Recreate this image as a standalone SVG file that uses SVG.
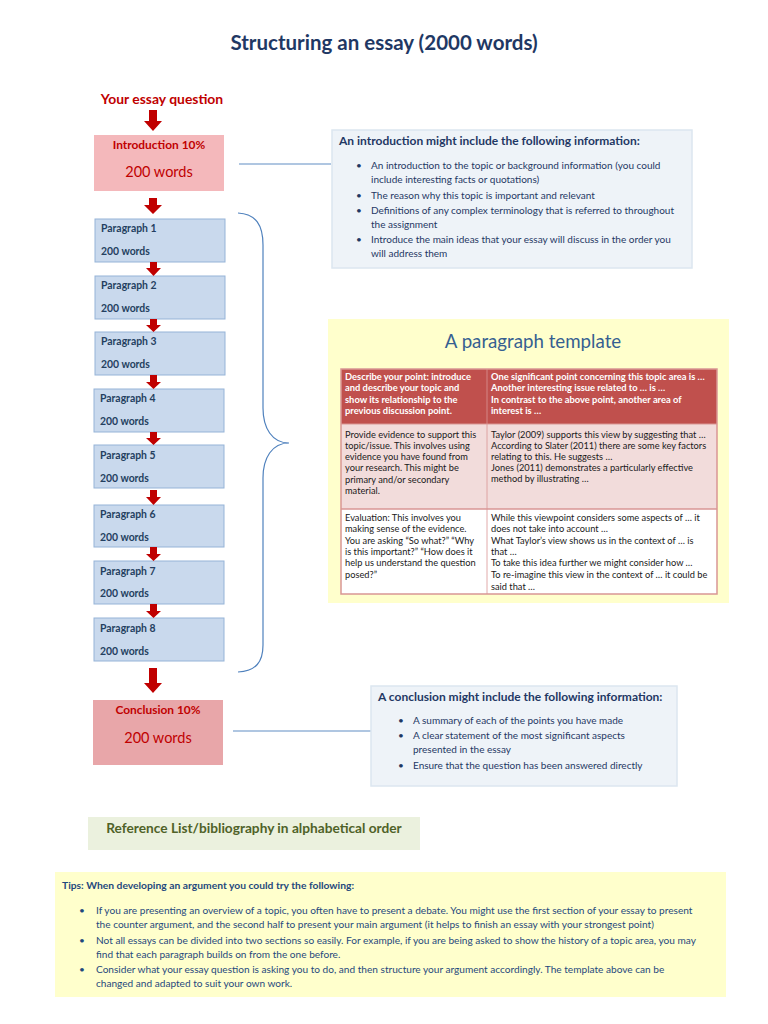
<svg xmlns="http://www.w3.org/2000/svg" width="768" height="1024" viewBox="0 0 768 1024">
<style>
text{font-family:Lato,"Open Sans","Liberation Sans",sans-serif;}
.title{font-size:20.5px;font-weight:bold;fill:#1f3864;}
.red{fill:#c00000;}
.arrow{fill:#c00000;}
.para rect{fill:#c9d9ed;stroke:#95b3d7;stroke-width:1;}
.para text{font-size:10.4px;font-weight:bold;fill:#243f60;}
.info{fill:#eef3f8;stroke:#dce6f0;stroke-width:1.5;}
.ih{font-size:12px;font-weight:bold;fill:#1f3864;}
.ib{font-size:10px;fill:#1f3864;}
.th{font-size:9.35px;font-weight:bold;fill:#ffffff;}
.tb{font-size:9.25px;fill:#1a1a1a;}
.tips{font-size:10.1px;fill:#1f497d;}
.conn{fill:none;stroke:#95b3d7;stroke-width:1.3;}
.brace{fill:none;stroke:#4f81bd;stroke-width:1.2;}
</style>

<text x="384" y="50" text-anchor="middle" class="title">Structuring an essay (2000 words)</text>

<g id="question">
<text x="162" y="104" text-anchor="middle" font-size="13.9" font-weight="bold" class="red">Your essay question</text>
</g>

<g id="intro">
<rect x="94" y="135" width="130" height="56" fill="#f4b8bb"/>
<text x="159" y="149" text-anchor="middle" font-size="11.9" font-weight="bold" class="red">Introduction 10%</text>
<text x="159" y="177" text-anchor="middle" font-size="14.5" class="red">200 words</text>
</g>

<g id="p1" class="para"><rect x="95" y="219" width="130" height="43"/><text x="101" y="232">Paragraph 1</text><text x="101" y="255">200 words</text></g>
<g id="p2" class="para"><rect x="95" y="276" width="130" height="43"/><text x="101" y="289">Paragraph 2</text><text x="101" y="312">200 words</text></g>
<g id="p3" class="para"><rect x="95" y="332" width="130" height="43"/><text x="101" y="345">Paragraph 3</text><text x="101" y="368">200 words</text></g>
<g id="p4" class="para"><rect x="94" y="389" width="130" height="43"/><text x="100" y="402">Paragraph 4</text><text x="100" y="425">200 words</text></g>
<g id="p5" class="para"><rect x="94" y="445" width="130" height="43"/><text x="100" y="459">Paragraph 5</text><text x="100" y="482">200 words</text></g>
<g id="p6" class="para"><rect x="94" y="505" width="130" height="42"/><text x="100" y="518">Paragraph 6</text><text x="100" y="541">200 words</text></g>
<g id="p7" class="para"><rect x="94" y="561" width="130" height="43"/><text x="100" y="575">Paragraph 7</text><text x="100" y="597">200 words</text></g>
<g id="p8" class="para"><rect x="94" y="618" width="130" height="43"/><text x="100" y="632">Paragraph 8</text><text x="100" y="655">200 words</text></g>

<g id="conclusion">
<rect x="93" y="700" width="130" height="65" fill="#e8a6a9"/>
<text x="158" y="714" text-anchor="middle" font-size="11.9" font-weight="bold" class="red">Conclusion 10%</text>
<text x="158" y="743" text-anchor="middle" font-size="14.5" class="red">200 words</text>
</g>

<g id="connectors">
<path class="arrow" d="M149,110 H157 V121 H162 L153,131 L144,121 H149 Z"/>
<path class="arrow" d="M149,198 H157 V205 H162 L153,214 L144,205 H149 Z"/>
<path class="arrow" d="M150,262 H157 V268 H161 L153.5,276 L146,268 H150 Z"/>
<path class="arrow" d="M150,319 H157 V325 H161 L153.5,332 L146,325 H150 Z"/>
<path class="arrow" d="M150,375 H157 V382 H161 L153.5,389 L146,382 H150 Z"/>
<path class="arrow" d="M150,432 H157 V438 H161 L153.5,445 L146,438 H150 Z"/>
<path class="arrow" d="M150,490 H157 V497 H161 L153.5,505 L146,497 H150 Z"/>
<path class="arrow" d="M150,547 H157 V554 H161 L153.5,561 L146,554 H150 Z"/>
<path class="arrow" d="M150,604 H157 V611 H161 L153.5,618 L146,611 H150 Z"/>
<path class="arrow" d="M149,668 H157 V683 H162 L153,693 L144,683 H149 Z"/>
<line class="conn" x1="239" y1="164" x2="331" y2="164"/>
<line class="conn" x1="233" y1="731" x2="371" y2="731"/>
<path class="brace" d="M238,213 C256,214 263,225 263,245 L263,408 C263,428 272,443 289,443 C272,443 263,458 263,478 L263,645 C263,662 256,671 238,672"/>
</g>

<g id="intro-info">
<rect class="info" x="332" y="130" width="360" height="138"/>
<text x="339" y="145" class="ih">An introduction might include the following information:</text>
<g class="ib">
<text x="356" y="169">•</text><text x="371" y="169">An introduction to the topic or background information (you could</text>
<text x="371" y="183">include interesting facts or quotations)</text>
<text x="356" y="199">•</text><text x="371" y="199">The reason why this topic is important and relevant</text>
<text x="356" y="214">•</text><text x="371" y="214">Definitions of any complex terminology that is referred to throughout</text>
<text x="371" y="228">the assignment</text>
<text x="356" y="243">•</text><text x="371" y="243">Introduce the main ideas that your essay will discuss in the order you</text>
<text x="371" y="257">will address them</text>
</g>
</g>

<g id="template">
<rect x="328" y="319" width="401" height="284" fill="#ffffcc"/>
<text x="533" y="348" text-anchor="middle" font-size="18.7" fill="#365f91">A paragraph template</text>
<rect x="341" y="369" width="376" height="55" fill="#c0504d"/>
<rect x="341" y="424" width="376" height="85" fill="#f2dcdb"/>
<rect x="341" y="509" width="376" height="85" fill="#ffffff"/>
<rect x="341" y="369" width="376" height="225" fill="none" stroke="#d99694" stroke-width="1.5"/>
<line x1="341" y1="424" x2="717" y2="424" stroke="#d99694" stroke-width="1"/>
<line x1="341" y1="509" x2="717" y2="509" stroke="#d99694" stroke-width="1.5"/>
<line x1="487" y1="369" x2="487" y2="594" stroke="#d99694" stroke-width="0.8"/>
<g class="th">
<text x="345" y="380">Describe your point: introduce</text>
<text x="345" y="391">and describe your topic and</text>
<text x="345" y="403">show its relationship to the</text>
<text x="345" y="414">previous discussion point.</text>
<text x="491" y="380">One significant point concerning this topic area is  …</text>
<text x="491" y="391">Another interesting issue related to … is …</text>
<text x="491" y="403">In contrast to the above point, another area of</text>
<text x="491" y="414">interest is …</text>
</g>
<g class="tb">
<text x="345" y="438">Provide evidence to support this</text>
<text x="345" y="449">topic/issue. This involves using</text>
<text x="345" y="460">evidence you have found from</text>
<text x="345" y="471">your research. This might be</text>
<text x="345" y="483">primary and/or secondary</text>
<text x="345" y="494">material.</text>
<text x="491" y="438">Taylor (2009) supports this view by suggesting that …</text>
<text x="491" y="449">According to Slater (2011) there are some key factors</text>
<text x="491" y="460">relating to this. He suggests …</text>
<text x="491" y="471">Jones (2011) demonstrates a particularly effective</text>
<text x="491" y="482">method by illustrating …</text>
<text x="345" y="521">Evaluation: This involves you</text>
<text x="345" y="532">making sense of the evidence.</text>
<text x="345" y="544">You are asking “So what?” “Why</text>
<text x="345" y="555">is this important?” “How does it</text>
<text x="345" y="566">help us understand the question</text>
<text x="345" y="578">posed?”</text>
<text x="491" y="521">While this viewpoint considers some aspects of … it</text>
<text x="491" y="532">does not take into account …</text>
<text x="491" y="544">What Taylor’s view shows us in the context of … is</text>
<text x="491" y="555">that …</text>
<text x="491" y="566">To take this idea further we might consider how …</text>
<text x="491" y="578">To re-imagine this view in the context of … it could be</text>
<text x="491" y="590">said that …</text>
</g>
</g>

<g id="conclusion-info">
<rect class="info" x="371" y="686" width="306" height="100"/>
<text x="378" y="701" class="ih">A conclusion might include the following information:</text>
<g class="ib">
<text x="398" y="724">•</text><text x="413" y="724">A summary of each of the points you have made</text>
<text x="398" y="739">•</text><text x="413" y="739">A clear statement of the most significant aspects</text>
<text x="413" y="753">presented in the essay</text>
<text x="398" y="769">•</text><text x="413" y="769">Ensure that the question has been answered directly</text>
</g>
</g>

<g id="reference">
<rect x="88" y="817" width="332" height="33" fill="#ebf1de"/>
<text x="254" y="833" text-anchor="middle" font-size="13.7" font-weight="bold" fill="#4f6228">Reference List/bibliography in alphabetical order</text>
</g>

<g id="tips">
<rect x="55" y="872" width="671" height="125" fill="#ffffcc"/>
<text x="62" y="889" font-size="10.3" font-weight="bold" fill="#1f497d">Tips: When developing an argument you could try the following:</text>
<g class="tips">
<text x="79" y="914">•</text><text x="96" y="914">If you are presenting an overview of a topic, you often have to present a debate. You might use the first section of your essay to present</text>
<text x="96" y="928">the counter argument, and the second half to present your main argument (it helps to finish an essay with your strongest point)</text>
<text x="79" y="944">•</text><text x="96" y="944">Not all essays can be divided into two sections so easily. For example, if you are being asked to show the history of a topic area, you may</text>
<text x="96" y="958">find that each paragraph builds on from the one before.</text>
<text x="79" y="973">•</text><text x="96" y="973">Consider what your essay question is asking you to do, and then structure your argument accordingly. The template above can be</text>
<text x="96" y="987">changed and adapted to suit your own work.</text>
</g>
</g>
</svg>
